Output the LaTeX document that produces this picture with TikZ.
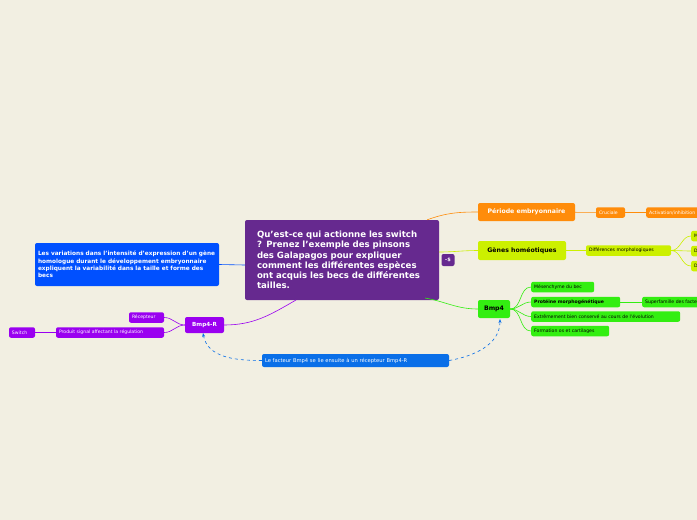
\documentclass[tikz,border=0pt]{standalone}
\usepackage{fontspec}
\setmainfont{DejaVu Sans}
\usetikzlibrary{arrows.meta}
\definecolor{bg}{HTML}{F2EFE2}
\definecolor{cpurple}{HTML}{66298F}
\definecolor{corange}{HTML}{FF8C0A}
\definecolor{cyg}{HTML}{CCF000}
\definecolor{cgreen}{HTML}{33EE11}
\definecolor{cblue}{HTML}{0050FF}
\definecolor{cviolet}{HTML}{9A00F0}
\definecolor{clblue}{HTML}{0A6FE8}
\tikzset{
 box/.style={rectangle,rounded corners=2pt,inner sep=0pt,align=center},
 sm/.style={box,font=\fontsize{4.6}{5.5}\selectfont,minimum height=10.5pt,inner xsep=3pt,text width=#1-6pt,align=left},
 lk/.style={line width=0.6pt},
}
\begin{document}
\begin{tikzpicture}[x=1pt,y=-1pt]
\fill[bg] (0,0) rectangle (697,520);
\useasboundingbox (0,0) rectangle (697,520);
\clip (0,0) rectangle (697,520);
% central
\node[box,fill=cpurple,text=white,font=\bfseries\fontsize{8.6}{10.3}\selectfont,text width=170pt,align=left,minimum width=194pt,minimum height=80pt] (c) at (342,260) {\hyphenpenalty=10000 Qu'est-ce qui actionne les switch ? Prenez l'exemple des pinsons des Galapagos pour expliquer comment les différentes espèces ont acquis les becs de différentes tailles.};
\node[box,fill=cpurple,text=white,font=\bfseries\fontsize{5}{6}\selectfont,minimum width=13pt,minimum height=12pt] (d) at (448,260) {-\$};
% orange branch
\node[box,fill=corange,text=white,font=\bfseries\fontsize{6.2}{7}\selectfont,minimum width=97pt,minimum height=18pt] (pe) at (526.5,212) {Période embryonnaire};
\node[sm=29pt,fill=corange,text=white] (cr) at (610.5,212.5) {Cruciale};
\node[sm=64pt,fill=corange,text=white,anchor=west] (ac) at (646,212.5) {Activation/inhibition};
\draw[corange,lk] (c.north east) ++(-12,0) to[out=20,in=180] (pe.west);
\draw[corange,lk] (pe) -- (cr) (cr) -- (ac);
% yellow-green branch
\node[box,fill=cyg,font=\bfseries\fontsize{6.2}{7}\selectfont,minimum width=88pt,minimum height=19pt] (gh) at (522,250.5) {Gènes homéotiques};
\node[sm=85pt,fill=cyg] (dm) at (628.5,250.5) {Différences morphologiques};
\node[sm=20pt,fill=cyg,anchor=west] (m1) at (691,236) {M};
\node[sm=20pt,fill=cyg,anchor=west] (m2) at (691,251) {D};
\node[sm=20pt,fill=cyg,anchor=west] (m3) at (691,266) {D};
\draw[cyg,lk] (439,252) to[out=0,in=180] (gh.west);
\draw[cyg,lk] (gh) -- (dm);
\foreach \m in {m1,m2,m3}{\draw[cyg,lk] (dm.east) to[out=0,in=180] (\m.west);}
% green branch
\node[box,fill=cgreen,font=\bfseries\fontsize{6.2}{7}\selectfont,minimum width=32pt,minimum height=18pt] (b) at (494,309) {Bmp4};
\node[sm=63pt,fill=cgreen,anchor=west] (g1) at (531,287) {Mésenchyme du bec};
\node[sm=89pt,fill=cgreen,anchor=west,font=\bfseries\fontsize{4.6}{5.5}\selectfont] (g2) at (531,302) {Protéine morphogénétique};
\node[sm=70pt,fill=cgreen,anchor=west] (g2b) at (642,302) {Superfamille des facteurs};
\node[sm=149pt,fill=cgreen,anchor=west] (g3) at (531,316.5) {Extrêmement bien conservé au cours de l'évolution};
\node[sm=78pt,fill=cgreen,anchor=west] (g4) at (531,331) {Formation os et cartilages};
\draw[cgreen,lk] (425,298) to[out=-10,in=180] (b.west);
\foreach \g in {g1,g2,g3,g4}{\draw[cgreen,lk] (b.east) to[out=0,in=180] (\g.west);}
\draw[cgreen,lk] (g2) -- (g2b);
% blue left
\node[box,fill=cblue,text=white,font=\bfseries\fontsize{5.8}{7.2}\selectfont,text width=178pt,align=left,minimum width=184pt,minimum height=43pt] (bl) at (127,264.5) {\hyphenpenalty=10000 Les variations dans l'intensité d'expression d'un gène homologue durant le développement embryonnaire expliquent la variabilité dans la taille et forme des becs};
\draw[cblue,lk] (c.west) ++(0,5) -- (bl.east);
% violet branch
\node[box,fill=cviolet,text=white,font=\bfseries\fontsize{5.6}{7}\selectfont,minimum width=39pt,minimum height=16pt] (br) at (204.5,325) {Bmp4-R};
\node[sm=35pt,fill=cviolet,text=white] (re) at (146.5,317.5) {Récepteur};
\node[sm=108pt,fill=cviolet,text=white] (ps) at (110,332.5) {Produit signal affectant la régulation};
\node[sm=26pt,fill=cviolet,text=white] (sw) at (22,332.5) {Switch};
\draw[cviolet,lk] (296,300) to[out=-150,in=0] (br.east);
\draw[cviolet,lk] (br.west) to[out=180,in=0] (re.east);
\draw[cviolet,lk] (br.west) to[out=180,in=0] (ps.east);
\draw[cviolet,lk] (ps) -- (sw);
% bottom label
\node[sm=187pt,fill=clblue,text=white,minimum height=13pt,font=\fontsize{5.2}{6}\selectfont] (lf) at (355.5,360.5) {Le facteur Bmp4 se lie ensuite à un récepteur Bmp4-R};
\draw[clblue,lk,dashed,-{Stealth[length=4pt]}] (lf.east) to[out=10,in=-90] (500,319);
\draw[clblue,lk,dashed,-{Stealth[length=4pt]}] (lf.west) to[out=180,in=-80] (203,333);
\end{tikzpicture}
\end{document}
